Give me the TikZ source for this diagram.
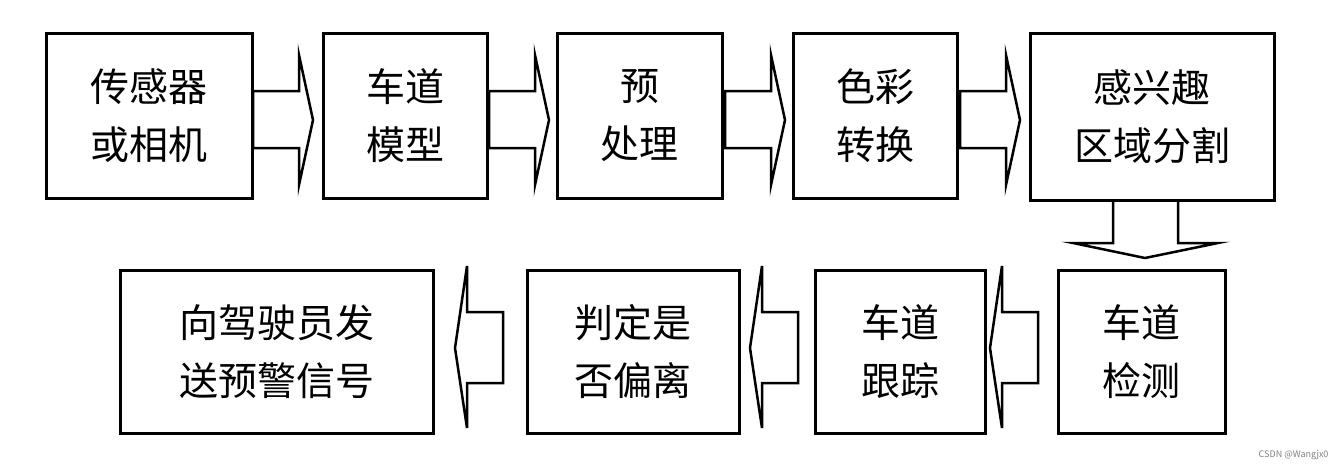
\documentclass[tikz,border=0pt]{standalone}
\usepackage{fontspec}
\setmainfont{Noto Sans CJK SC}
\begin{document}
\begin{tikzpicture}[x=1pt,y=-1pt,
 bx/.style={draw,line width=3pt,inner sep=0pt,font=\fontsize{39}{58}\selectfont,align=center},
 ba/.style={draw,line width=2.5pt,line join=miter}]
\useasboundingbox (0,0) rectangle (1336,472);
\fill[white] (0,0) rectangle (1336,472);
\newcommand\bxx[6]{\node[bx,minimum width=#4-#2,minimum height=#5-#3] (#1) at ({(#2+#4)/2},{(#3+#5)/2}) {#6};}
\bxx{a}{46}{33}{252}{198}{传感器\\或相机}
\bxx{b}{323}{33}{487}{198}{车道\\模型}
\bxx{c}{557}{33}{722}{198}{预\\处理}
\bxx{d}{793}{33}{957}{198}{色彩\\转换}
\bxx{e}{1030}{33}{1274}{200}{感兴趣\\区域分割}
\bxx{f}{1058}{270}{1225}{433}{车道\\检测}
\bxx{g}{815}{270}{985}{433}{车道\\跟踪}
\bxx{h}{527}{270}{739}{433}{判定是\\否偏离}
\bxx{i}{120}{270}{433}{433}{向驾驶员发\\送预警信号}
% right arrows
\foreach \s in {253,489,725,960}{
 \draw[ba] (\s,91) -- (\s+46,91) -- (\s+46,55) -- (\s+60,120) -- (\s+46,185) -- (\s+46,148) -- (\s,148) -- cycle;}
% down arrow
\draw[ba] (1113,202) -- (1113,243) -- (1073,243) -- (1145,258) -- (1218,243) -- (1178,243) -- (1178,202);
% left arrows
\foreach \t in {990,750,455}{
 \draw[ba] (\t+48,312) -- (\t+12,312) -- (\t+12,266) -- (\t,348) -- (\t+12,428) -- (\t+12,383) -- (\t+48,383) -- cycle;}
\node[font=\fontsize{9}{10}\selectfont,text=gray,anchor=east] (w) at (1332,455) {CSDN @Wangjx0};
\end{tikzpicture}
\end{document}
